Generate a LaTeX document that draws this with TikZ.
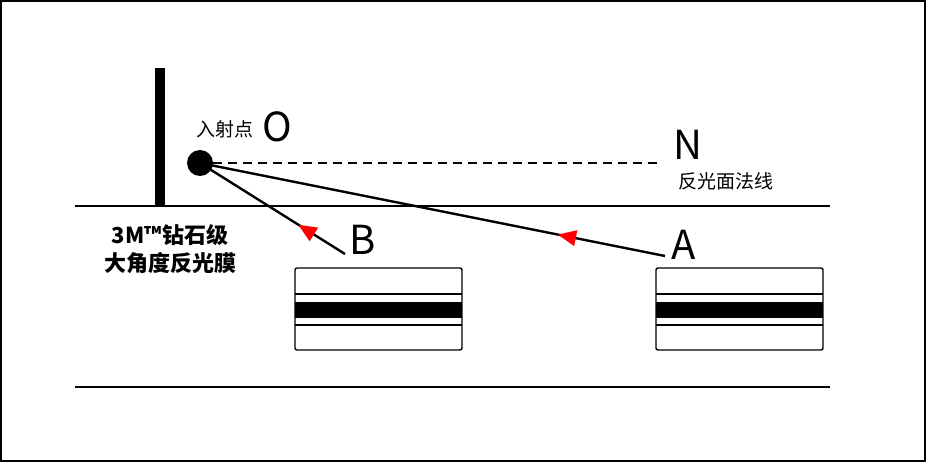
\documentclass[tikz,border=0pt]{standalone}
\usepackage{fontspec}
\setmainfont{Noto Sans CJK SC}
\usetikzlibrary{arrows.meta}
\begin{document}
\begin{tikzpicture}[x=1pt,y=-1pt,
  road/.style={line width=2pt},
  ray/.style={line width=2.4pt},
  redtip/.style={red,line width=0.01pt,-{Triangle[length=18pt,width=16pt]}},
  lbl/.style={font=\fontsize{40}{40}\selectfont,inner sep=0},
  small/.style={font=\fontsize{19}{22}\selectfont,inner sep=0,align=center},
  big/.style={font=\fontsize{22}{27}\selectfont\bfseries,inner sep=0,align=center},
  car/.style={line width=1.4pt,rounded corners=2pt}]
\useasboundingbox (0,0) rectangle (926,462);
\draw[line width=2pt] (1,1) rectangle (925,461);
% roads
\draw[road] (75,206) -- (830,206);
\draw[road] (75,387) -- (830,387);
% pole
\fill (155,68) rectangle (165,205);
% point O
\node[circle,fill,minimum size=26pt,inner sep=0] (O) at (200,163) {};
\coordinate (Nend) at (660,163);
\draw[line width=2pt,dash pattern=on 9pt off 6pt] (O.east) -- (Nend);
\node[lbl] (N) at (688,145) {N};
\node[small] (nlab) at (726,181) {反光面法线};
\node[small] (rlab) at (225,129) {入射点};
\node[lbl] (Olab) at (277,127) {O};
% rays
\coordinate (Bend) at (345,254);
\coordinate (Aend) at (665,256);
\draw[ray] (O.center) -- (Bend);
\draw[ray] (O.center) -- (Aend);
\path (Bend) -- (O.center) coordinate[pos=0.22] (bt1) coordinate[pos=0.32] (bt2);
\path (Aend) -- (O.center) coordinate[pos=0.185] (at1) coordinate[pos=0.23] (at2);
\draw[redtip] (bt1) -- (bt2);
\draw[redtip] (at1) -- (at2);
\node[lbl] (B) at (363,240) {B};
\node[lbl] (A) at (684,245) {A};
\node[big] (t1) at (170,235) {3M™钻石级};
\node[big] (t2) at (170,263) {大角度反光膜};
% cars
\foreach \x in {295,656}{
  \draw[car] (\x,268) rectangle ++(167,82);
  \draw[line width=1.4pt] (\x,294) -- ++(167,0);
  \draw[line width=1.4pt] (\x,325) -- ++(167,0);
  \fill (\x,302) rectangle ++(167,16);
}
\end{tikzpicture}
\end{document}
